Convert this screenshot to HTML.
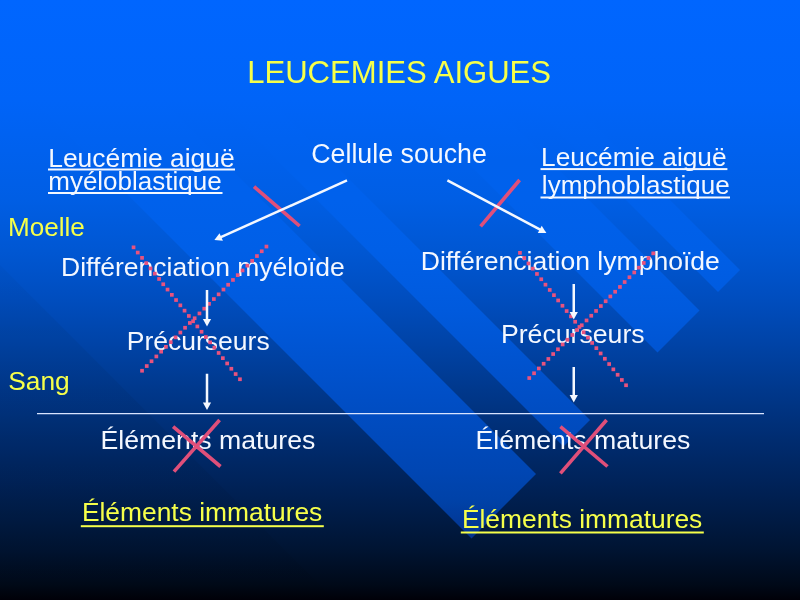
<!DOCTYPE html>
<html><head><meta charset="utf-8">
<style>
html,body{margin:0;padding:0;background:#000;}
body{width:800px;height:600px;overflow:hidden;position:relative;}
svg{position:absolute;left:0;top:0;display:block;}
text{font-family:"Liberation Sans",sans-serif;white-space:pre;}
</style></head><body>
<svg id="s" width="800" height="600" viewBox="0 0 800 600">
<defs>
<linearGradient id="g" gradientUnits="userSpaceOnUse" x1="0" y1="0" x2="0" y2="600">
<stop offset="0.0000" stop-color="rgb(0,102,255)"/>
<stop offset="0.1667" stop-color="rgb(0,100,248)"/>
<stop offset="0.3333" stop-color="rgb(0,94,228)"/>
<stop offset="0.4167" stop-color="rgb(0,87,211)"/>
<stop offset="0.5000" stop-color="rgb(0,77,190)"/>
<stop offset="0.5750" stop-color="rgb(0,67,166)"/>
<stop offset="0.6500" stop-color="rgb(0,56,140)"/>
<stop offset="0.7333" stop-color="rgb(0,44,112)"/>
<stop offset="0.8167" stop-color="rgb(0,33,85)"/>
<stop offset="0.9167" stop-color="rgb(0,20,50)"/>
<stop offset="0.9750" stop-color="rgb(0,9,24)"/>
<stop offset="1.0000" stop-color="rgb(0,0,8)"/>
</linearGradient>
<linearGradient id="bd" gradientUnits="userSpaceOnUse" x1="0" y1="0" x2="0" y2="600">
<stop offset="0.0000" stop-color="rgb(0,102,255)"/>
<stop offset="0.1667" stop-color="rgb(0,100,248)"/>
<stop offset="0.2667" stop-color="rgb(0,97,237)"/>
<stop offset="0.3333" stop-color="rgb(0,97,236)"/>
<stop offset="0.4167" stop-color="rgb(0,95,231)"/>
<stop offset="0.5167" stop-color="rgb(0,90,221)"/>
<stop offset="0.6667" stop-color="rgb(0,78,197)"/>
<stop offset="0.7833" stop-color="rgb(0,70,179)"/>
<stop offset="0.8333" stop-color="rgb(0,66,168)"/>
<stop offset="0.9000" stop-color="rgb(3,50,140)"/>
<stop offset="1.0000" stop-color="rgb(3,38,110)"/>
</linearGradient>
<linearGradient id="dk" gradientUnits="userSpaceOnUse" x1="0" y1="200" x2="0" y2="330">
<stop offset="0" stop-color="#000" stop-opacity="0"/><stop offset="1" stop-color="#000" stop-opacity="0.05"/>
</linearGradient>
<clipPath id="clip"><polygon points="0,0 800,0 800,210 0,1010"/></clipPath>
</defs>
<g id="bgl">
<rect width="800" height="600" fill="url(#g)"/>
<g clip-path="url(#clip)" fill="url(#bd)">
<polygon points="-700,-1170 -700,-1126 1500,1074 1500,1030"/>
<polygon points="-700,-1089 -700,-1005 1500,1195 1500,1111"/>
<polygon points="-700,-870 -700,-817 1500,1383 1500,1330"/>
<polygon points="-700,-762 -700,-633 1500,1567 1500,1438"/>
</g>
<polygon points="-700,-435 -700,500 1500,2700 1500,1765" fill="url(#dk)"/>
</g>

<defs><filter id="soft" filterUnits="userSpaceOnUse" x="0" y="0" width="800" height="600"><feGaussianBlur stdDeviation="0.45"/></filter></defs>
<g filter="url(#soft)">
<g id="txt">
<text id="t1" class="tx" fill="#f6ff4a" font-size="31.10" transform="translate(247.15 83.10) scale(0.9997 1)">LEUCEMIES AIGUES</text>
<text id="t2" class="tx" fill="#f4f8ff" font-size="26.77" transform="translate(311.24 163.25) scale(1.0000 1)">Cellule souche</text>
<text id="t3" class="tx" fill="#f4f8ff" font-size="26.42" transform="translate(48.23 166.75) scale(1.0000 1)">Leucémie aiguë</text>
<rect class="tx" x="48" y="168.50" width="187.00" height="2" fill="#f4f8ff"/>
<text id="t4" class="tx" fill="#f4f8ff" font-size="25.99" transform="translate(48.26 190.00) scale(1.0000 1)">myéloblastique</text>
<rect class="tx" x="48" y="192.00" width="174.50" height="2" fill="#f4f8ff"/>
<text id="t5" class="tx" fill="#f4f8ff" font-size="26.27" transform="translate(541.09 166.00) scale(1.0000 1)">Leucémie aiguë</text>
<rect class="tx" x="540.5" y="168.10" width="186.90" height="2" fill="#f4f8ff"/>
<text id="t6" class="tx" fill="#f4f8ff" font-size="26.01" transform="translate(541.86 194.30) scale(1.0000 1)">lymphoblastique</text>
<rect class="tx" x="540.5" y="196.50" width="189.50" height="2" fill="#f4f8ff"/>
<text id="t7" class="tx" fill="#f6ff4a" font-size="26.09" transform="translate(7.99 236.25) scale(1.0000 1)">Moelle</text>
<text id="t8" class="tx" fill="#f4f8ff" font-size="26.49" transform="translate(61.06 276.40) scale(1.0000 1)">Différenciation myéloïde</text>
<text id="t9" class="tx" fill="#f4f8ff" font-size="26.56" transform="translate(420.76 269.80) scale(1.0000 1)">Différenciation lymphoïde</text>
<text id="t10" class="tx" fill="#f4f8ff" font-size="26.52" transform="translate(126.71 350.00) scale(1.0000 1)">Précurseurs</text>
<text id="t11" class="tx" fill="#f4f8ff" font-size="26.66" transform="translate(500.95 343.00) scale(1.0000 1)">Précurseurs</text>
<text id="t12" class="tx" fill="#f6ff4a" font-size="26.34" transform="translate(8.23 390.00) scale(1.0000 1)">Sang</text>
<text id="t13" class="tx" fill="#f4f8ff" font-size="26.67" transform="translate(100.55 449.40) scale(1.0000 1)">Éléments matures</text>
<text id="t14" class="tx" fill="#f4f8ff" font-size="26.67" transform="translate(475.55 449.40) scale(1.0000 1)">Éléments matures</text>
<text id="t15" class="tx" fill="#f6ff4a" font-size="26.38" transform="translate(81.92 521.40) scale(1.0000 1)">Éléments immatures</text>
<rect class="tx" x="80.8" y="525.20" width="243.00" height="2" fill="#f6ff4a"/>
<text id="t16" class="tx" fill="#f6ff4a" font-size="26.38" transform="translate(461.92 527.80) scale(1.0000 1)">Éléments immatures</text>
<rect class="tx" x="460.8" y="531.50" width="243.00" height="2" fill="#f6ff4a"/>
</g>
<g id="fg">
<g stroke="#e0507a" stroke-width="3.6" fill="none">
<line x1="254" y1="186.6" x2="299.6" y2="226"/>
<line x1="519.6" y1="180" x2="480.6" y2="226.4"/>
<line x1="173.1" y1="426.6" x2="220.5" y2="466.5"/>
<line x1="219.6" y1="420" x2="174" y2="471.6"/>
<line x1="560.4" y1="426.6" x2="607.5" y2="466.5"/>
<line x1="606.6" y1="420" x2="560.4" y2="473.4"/>
</g>
<g fill="#e8527e">
<rect x="131.7" y="245.5" width="3.7" height="3.7"/>
<rect x="135.9" y="250.7" width="3.7" height="3.7"/>
<rect x="140.2" y="256.0" width="3.7" height="3.7"/>
<rect x="144.4" y="261.3" width="3.7" height="3.7"/>
<rect x="148.7" y="266.6" width="3.7" height="3.7"/>
<rect x="152.9" y="271.8" width="3.7" height="3.7"/>
<rect x="157.2" y="277.1" width="3.7" height="3.7"/>
<rect x="161.4" y="282.4" width="3.7" height="3.7"/>
<rect x="165.7" y="287.7" width="3.7" height="3.7"/>
<rect x="170.0" y="293.0" width="3.7" height="3.7"/>
<rect x="174.2" y="298.2" width="3.7" height="3.7"/>
<rect x="178.5" y="303.5" width="3.7" height="3.7"/>
<rect x="182.7" y="308.8" width="3.7" height="3.7"/>
<rect x="187.0" y="314.1" width="3.7" height="3.7"/>
<rect x="191.2" y="319.4" width="3.7" height="3.7"/>
<rect x="195.5" y="324.6" width="3.7" height="3.7"/>
<rect x="199.7" y="329.9" width="3.7" height="3.7"/>
<rect x="204.0" y="335.2" width="3.7" height="3.7"/>
<rect x="208.3" y="340.5" width="3.7" height="3.7"/>
<rect x="212.5" y="345.8" width="3.7" height="3.7"/>
<rect x="216.8" y="351.1" width="3.7" height="3.7"/>
<rect x="221.0" y="356.3" width="3.7" height="3.7"/>
<rect x="225.3" y="361.6" width="3.7" height="3.7"/>
<rect x="229.5" y="366.9" width="3.7" height="3.7"/>
<rect x="233.8" y="372.2" width="3.7" height="3.7"/>
<rect x="238.1" y="377.4" width="3.7" height="3.7"/>
<rect x="264.6" y="244.7" width="3.7" height="3.7"/>
<rect x="259.9" y="249.4" width="3.7" height="3.7"/>
<rect x="255.1" y="254.2" width="3.7" height="3.7"/>
<rect x="250.3" y="259.0" width="3.7" height="3.7"/>
<rect x="245.5" y="263.8" width="3.7" height="3.7"/>
<rect x="240.7" y="268.6" width="3.7" height="3.7"/>
<rect x="235.9" y="273.3" width="3.7" height="3.7"/>
<rect x="231.1" y="278.1" width="3.7" height="3.7"/>
<rect x="226.3" y="282.9" width="3.7" height="3.7"/>
<rect x="221.6" y="287.7" width="3.7" height="3.7"/>
<rect x="216.8" y="292.5" width="3.7" height="3.7"/>
<rect x="212.0" y="297.2" width="3.7" height="3.7"/>
<rect x="207.2" y="302.0" width="3.7" height="3.7"/>
<rect x="202.4" y="306.8" width="3.7" height="3.7"/>
<rect x="197.6" y="311.6" width="3.7" height="3.7"/>
<rect x="192.8" y="316.4" width="3.7" height="3.7"/>
<rect x="188.0" y="321.1" width="3.7" height="3.7"/>
<rect x="183.2" y="325.9" width="3.7" height="3.7"/>
<rect x="178.5" y="330.7" width="3.7" height="3.7"/>
<rect x="173.7" y="335.5" width="3.7" height="3.7"/>
<rect x="168.9" y="340.3" width="3.7" height="3.7"/>
<rect x="164.1" y="345.0" width="3.7" height="3.7"/>
<rect x="159.3" y="349.8" width="3.7" height="3.7"/>
<rect x="154.5" y="354.6" width="3.7" height="3.7"/>
<rect x="149.7" y="359.4" width="3.7" height="3.7"/>
<rect x="144.9" y="364.2" width="3.7" height="3.7"/>
<rect x="140.2" y="368.9" width="3.7" height="3.7"/>
<rect x="518.1" y="251.0" width="3.7" height="3.7"/>
<rect x="522.4" y="256.2" width="3.7" height="3.7"/>
<rect x="526.6" y="261.6" width="3.7" height="3.7"/>
<rect x="530.9" y="266.8" width="3.7" height="3.7"/>
<rect x="535.1" y="272.1" width="3.7" height="3.7"/>
<rect x="539.4" y="277.4" width="3.7" height="3.7"/>
<rect x="543.6" y="282.8" width="3.7" height="3.7"/>
<rect x="547.9" y="288.1" width="3.7" height="3.7"/>
<rect x="552.1" y="293.3" width="3.7" height="3.7"/>
<rect x="556.3" y="298.6" width="3.7" height="3.7"/>
<rect x="560.6" y="303.9" width="3.7" height="3.7"/>
<rect x="564.8" y="309.2" width="3.7" height="3.7"/>
<rect x="569.1" y="314.5" width="3.7" height="3.7"/>
<rect x="573.3" y="319.9" width="3.7" height="3.7"/>
<rect x="577.6" y="325.1" width="3.7" height="3.7"/>
<rect x="581.8" y="330.4" width="3.7" height="3.7"/>
<rect x="586.1" y="335.8" width="3.7" height="3.7"/>
<rect x="590.3" y="341.1" width="3.7" height="3.7"/>
<rect x="594.5" y="346.3" width="3.7" height="3.7"/>
<rect x="598.8" y="351.6" width="3.7" height="3.7"/>
<rect x="603.0" y="356.9" width="3.7" height="3.7"/>
<rect x="607.3" y="362.2" width="3.7" height="3.7"/>
<rect x="611.5" y="367.5" width="3.7" height="3.7"/>
<rect x="615.8" y="372.9" width="3.7" height="3.7"/>
<rect x="620.0" y="378.1" width="3.7" height="3.7"/>
<rect x="624.2" y="383.4" width="3.7" height="3.7"/>
<rect x="651.4" y="251.5" width="3.7" height="3.7"/>
<rect x="646.7" y="256.2" width="3.7" height="3.7"/>
<rect x="641.9" y="261.1" width="3.7" height="3.7"/>
<rect x="637.1" y="265.8" width="3.7" height="3.7"/>
<rect x="632.4" y="270.6" width="3.7" height="3.7"/>
<rect x="627.6" y="275.4" width="3.7" height="3.7"/>
<rect x="622.8" y="280.2" width="3.7" height="3.7"/>
<rect x="618.1" y="285.1" width="3.7" height="3.7"/>
<rect x="613.3" y="289.9" width="3.7" height="3.7"/>
<rect x="608.5" y="294.6" width="3.7" height="3.7"/>
<rect x="603.8" y="299.4" width="3.7" height="3.7"/>
<rect x="599.0" y="304.2" width="3.7" height="3.7"/>
<rect x="594.2" y="309.1" width="3.7" height="3.7"/>
<rect x="589.4" y="313.9" width="3.7" height="3.7"/>
<rect x="584.7" y="318.6" width="3.7" height="3.7"/>
<rect x="579.9" y="323.4" width="3.7" height="3.7"/>
<rect x="575.1" y="328.2" width="3.7" height="3.7"/>
<rect x="570.4" y="333.1" width="3.7" height="3.7"/>
<rect x="565.6" y="337.9" width="3.7" height="3.7"/>
<rect x="560.8" y="342.6" width="3.7" height="3.7"/>
<rect x="556.1" y="347.4" width="3.7" height="3.7"/>
<rect x="551.3" y="352.2" width="3.7" height="3.7"/>
<rect x="546.5" y="357.1" width="3.7" height="3.7"/>
<rect x="541.8" y="361.9" width="3.7" height="3.7"/>
<rect x="537.0" y="366.6" width="3.7" height="3.7"/>
<rect x="532.2" y="371.4" width="3.7" height="3.7"/>
<rect x="527.4" y="376.2" width="3.7" height="3.7"/>
</g>
<line x1="37" y1="413.6" x2="764" y2="413.6" stroke="#d8e4ff" stroke-width="1.4"/>
<line x1="347" y1="180.4" x2="220.33" y2="237.34" stroke="#f4f8ff" stroke-width="2.5"/>
<polygon points="214.40,240.00 219.56,233.19 222.92,240.66" fill="#f4f8ff"/>
<line x1="447.4" y1="180.4" x2="540.66" y2="229.95" stroke="#f4f8ff" stroke-width="2.5"/>
<polygon points="546.40,233.00 537.85,233.10 541.70,225.86" fill="#f4f8ff"/>
<line x1="207" y1="290" x2="207.00" y2="320.10" stroke="#f4f8ff" stroke-width="2.5"/>
<polygon points="207.00,326.60 202.90,319.10 211.10,319.10" fill="#f4f8ff"/>
<line x1="207" y1="373.75" x2="207.00" y2="403.50" stroke="#f4f8ff" stroke-width="2.5"/>
<polygon points="207.00,410.00 202.90,402.50 211.10,402.50" fill="#f4f8ff"/>
<line x1="573.75" y1="284" x2="573.75" y2="313.00" stroke="#f4f8ff" stroke-width="2.5"/>
<polygon points="573.75,319.50 569.65,312.00 577.85,312.00" fill="#f4f8ff"/>
<line x1="573.75" y1="367" x2="573.75" y2="396.00" stroke="#f4f8ff" stroke-width="2.5"/>
<polygon points="573.75,402.50 569.65,395.00 577.85,395.00" fill="#f4f8ff"/>

</g>
</g>
</svg>
</body></html>
